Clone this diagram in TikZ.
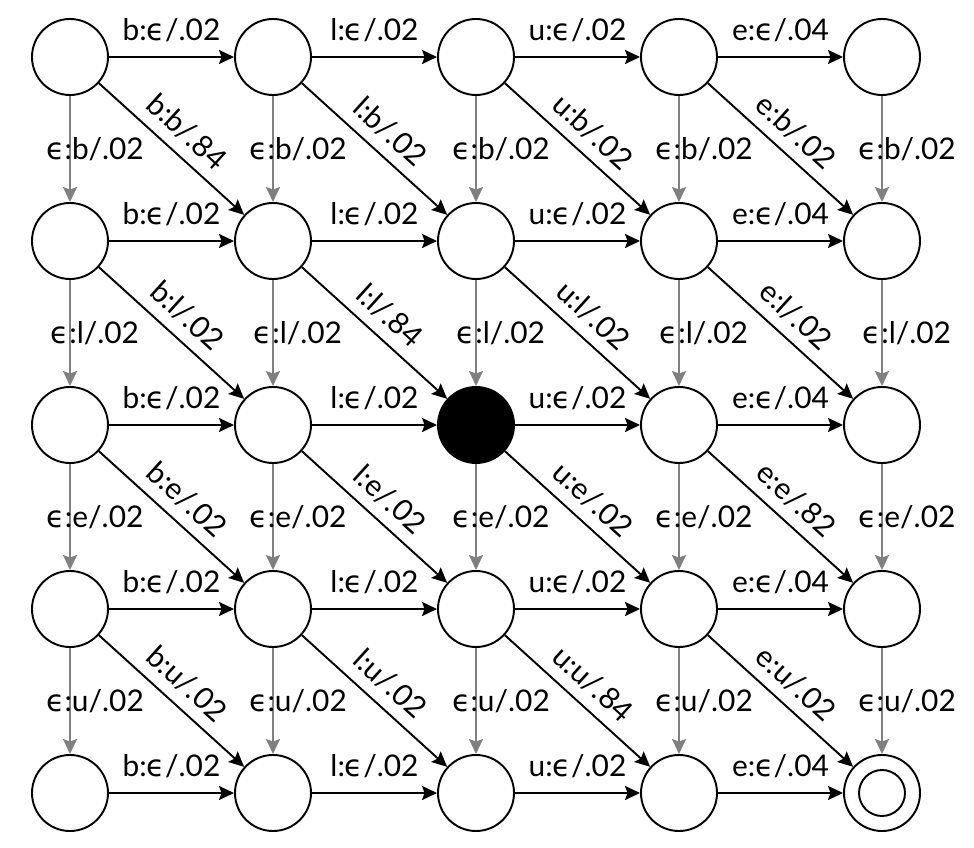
\documentclass[tikz,border=0pt]{standalone}
\usepackage{fontspec}
\setmainfont{Lato}
\newfontfamily\epsfont{DejaVu Sans}
\newcommand{\eps}{{\epsfont ϵ}}
\usetikzlibrary{arrows.meta}

\begin{document}
\begin{tikzpicture}[x=4.06cm,y=3.68cm,
    st/.style={circle,draw,line width=1.1pt,minimum size=1.52cm,inner sep=0pt},
    hor/.style={draw,line width=1.1pt,-{Stealth[length=3mm,width=2.8mm,inset=.5mm]}},
    ver/.style={hor,draw=gray},
    lab/.style={font=\fontsize{17}{20}\selectfont,inner sep=2pt,text=black},
    hlab/.style={lab,midway,above=6pt},
    vlab/.style={lab,midway,xshift=.5cm},
    dlab/.style={lab,midway,sloped,above=4pt}]
    \useasboundingbox (-1.4cm,-1.08cm) rectangle (18.08cm,15.86cm);

    %% states, top row first
    \node[st] (s00) at (0,4) {};
    \node[st] (s01) at (1,4) {};
    \node[st] (s02) at (2,4) {};
    \node[st] (s03) at (3,4) {};
    \node[st] (s04) at (4,4) {};

    \node[st] (s10) at (0,3) {};
    \node[st] (s11) at (1,3) {};
    \node[st] (s12) at (2,3) {};
    \node[st] (s13) at (3,3) {};
    \node[st] (s14) at (4,3) {};

    \node[st] (s20) at (0,2) {};
    \node[st] (s21) at (1,2) {};
    \node[st,fill=black] (s22) at (2,2) {};
    \node[st] (s23) at (3,2) {};
    \node[st] (s24) at (4,2) {};

    \node[st] (s30) at (0,1) {};
    \node[st] (s31) at (1,1) {};
    \node[st] (s32) at (2,1) {};
    \node[st] (s33) at (3,1) {};
    \node[st] (s34) at (4,1) {};

    \node[st] (s40) at (0,0) {};
    \node[st] (s41) at (1,0) {};
    \node[st] (s42) at (2,0) {};
    \node[st] (s43) at (3,0) {};
    \node[st] (s44) at (4,0) {};
    \draw[line width=1.1pt] (s44) circle [radius=.46cm];

    %% horizontal
    \draw[hor] (s00) -- (s01) node[hlab] {b:\eps/.02};
    \draw[hor] (s01) -- (s02) node[hlab] {l:\eps/.02};
    \draw[hor] (s02) -- (s03) node[hlab] {u:\eps/.02};
    \draw[hor] (s03) -- (s04) node[hlab] {e:\eps/.04};

    \draw[hor] (s10) -- (s11) node[hlab] {b:\eps/.02};
    \draw[hor] (s11) -- (s12) node[hlab] {l:\eps/.02};
    \draw[hor] (s12) -- (s13) node[hlab] {u:\eps/.02};
    \draw[hor] (s13) -- (s14) node[hlab] {e:\eps/.04};

    \draw[hor] (s20) -- (s21) node[hlab] {b:\eps/.02};
    \draw[hor] (s21) -- (s22) node[hlab] {l:\eps/.02};
    \draw[hor] (s22) -- (s23) node[hlab] {u:\eps/.02};
    \draw[hor] (s23) -- (s24) node[hlab] {e:\eps/.04};

    \draw[hor] (s30) -- (s31) node[hlab] {b:\eps/.02};
    \draw[hor] (s31) -- (s32) node[hlab] {l:\eps/.02};
    \draw[hor] (s32) -- (s33) node[hlab] {u:\eps/.02};
    \draw[hor] (s33) -- (s34) node[hlab] {e:\eps/.04};

    \draw[hor] (s40) -- (s41) node[hlab] {b:\eps/.02};
    \draw[hor] (s41) -- (s42) node[hlab] {l:\eps/.02};
    \draw[hor] (s42) -- (s43) node[hlab] {u:\eps/.02};
    \draw[hor] (s43) -- (s44) node[hlab] {e:\eps/.04};

    %% vertical
    \draw[ver] (s00) -- (s10) node[vlab] {\eps:b/.02};
    \draw[ver] (s01) -- (s11) node[vlab] {\eps:b/.02};
    \draw[ver] (s02) -- (s12) node[vlab] {\eps:b/.02};
    \draw[ver] (s03) -- (s13) node[vlab] {\eps:b/.02};
    \draw[ver] (s04) -- (s14) node[vlab] {\eps:b/.02};

    \draw[ver] (s10) -- (s20) node[vlab] {\eps:l/.02};
    \draw[ver] (s11) -- (s21) node[vlab] {\eps:l/.02};
    \draw[ver] (s12) -- (s22) node[vlab] {\eps:l/.02};
    \draw[ver] (s13) -- (s23) node[vlab] {\eps:l/.02};
    \draw[ver] (s14) -- (s24) node[vlab] {\eps:l/.02};

    \draw[ver] (s20) -- (s30) node[vlab] {\eps:e/.02};
    \draw[ver] (s21) -- (s31) node[vlab] {\eps:e/.02};
    \draw[ver] (s22) -- (s32) node[vlab] {\eps:e/.02};
    \draw[ver] (s23) -- (s33) node[vlab] {\eps:e/.02};
    \draw[ver] (s24) -- (s34) node[vlab] {\eps:e/.02};

    \draw[ver] (s30) -- (s40) node[vlab] {\eps:u/.02};
    \draw[ver] (s31) -- (s41) node[vlab] {\eps:u/.02};
    \draw[ver] (s32) -- (s42) node[vlab] {\eps:u/.02};
    \draw[ver] (s33) -- (s43) node[vlab] {\eps:u/.02};
    \draw[ver] (s34) -- (s44) node[vlab] {\eps:u/.02};

    %% diagonal
    \draw[hor] (s00) -- (s11) node[dlab] {b:b/.84};
    \draw[hor] (s01) -- (s12) node[dlab] {l:b/.02};
    \draw[hor] (s02) -- (s13) node[dlab] {u:b/.02};
    \draw[hor] (s03) -- (s14) node[dlab] {e:b/.02};

    \draw[hor] (s10) -- (s21) node[dlab] {b:l/.02};
    \draw[hor] (s11) -- (s22) node[dlab] {l:l/.84};
    \draw[hor] (s12) -- (s23) node[dlab] {u:l/.02};
    \draw[hor] (s13) -- (s24) node[dlab] {e:l/.02};

    \draw[hor] (s20) -- (s31) node[dlab] {b:e/.02};
    \draw[hor] (s21) -- (s32) node[dlab] {l:e/.02};
    \draw[hor] (s22) -- (s33) node[dlab] {u:e/.02};
    \draw[hor] (s23) -- (s34) node[dlab] {e:e/.82};

    \draw[hor] (s30) -- (s41) node[dlab] {b:u/.02};
    \draw[hor] (s31) -- (s42) node[dlab] {l:u/.02};
    \draw[hor] (s32) -- (s43) node[dlab] {u:u/.84};
    \draw[hor] (s33) -- (s44) node[dlab] {e:u/.02};
\end{tikzpicture}
\end{document}
